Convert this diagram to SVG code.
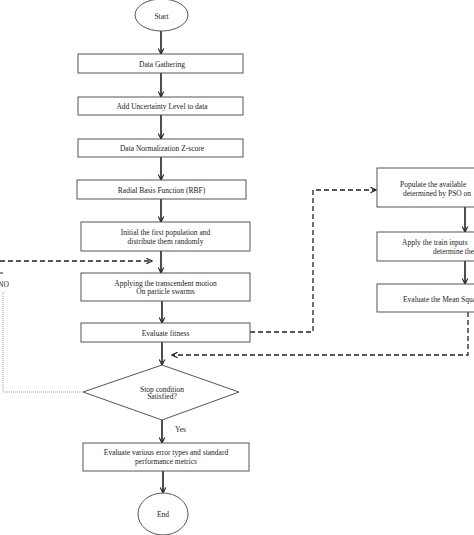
<svg xmlns="http://www.w3.org/2000/svg" width="474" height="535" viewBox="0 0 474 535">
<defs>
<style>
.box{fill:#fff;stroke:#555;stroke-width:1}
.t{font-family:"Liberation Serif","Times New Roman",serif;font-size:7.5px;fill:#222;text-anchor:middle}
.ts{font-family:"Liberation Serif","Times New Roman",serif;font-size:7.5px;fill:#222;text-anchor:start}
.a{stroke:#222;stroke-width:1.6;fill:none;marker-end:url(#ah)}
.d{stroke:#222;stroke-width:1.3;fill:none;stroke-dasharray:5,3}
.da{stroke:#222;stroke-width:1.3;fill:none;stroke-dasharray:5,3;marker-end:url(#ah)}
.dot{stroke:#888;stroke-width:0.8;fill:none;stroke-dasharray:1,1}
</style>
<marker id="ah" viewBox="0 0 10 10" refX="9" refY="5" markerWidth="7" markerHeight="7" markerUnits="userSpaceOnUse" orient="auto">
<path d="M1,1 L9,5 L1,9" fill="none" stroke="#222" stroke-width="1.6"/>
</marker>
</defs>
<rect width="474" height="535" fill="#fff"/>
<g id="connectors">
<line class="a" x1="161" y1="31" x2="161" y2="54"/>
<line class="a" x1="161" y1="73" x2="161" y2="97"/>
<line class="a" x1="161" y1="115" x2="161" y2="139"/>
<line class="a" x1="161" y1="157" x2="161" y2="180"/>
<line class="a" x1="161" y1="199" x2="161" y2="222"/>
<line class="a" x1="161" y1="251" x2="161" y2="273"/>
<line class="a" x1="162" y1="301" x2="162" y2="323"/>
<line class="a" x1="162" y1="342" x2="162" y2="365"/>
<line class="a" x1="162" y1="420" x2="162" y2="443"/>
<line class="a" x1="163" y1="471" x2="163" y2="493"/>
<line class="a" x1="465" y1="207" x2="465" y2="232"/>
<line class="a" x1="465" y1="261" x2="465" y2="284"/>
<line class="da" x1="0" y1="261" x2="152" y2="261"/>
<polyline class="da" points="250,332 313,332 313,190 376,190"/>
<polyline class="da" points="468,312 468,355 172,355"/>
<line x1="0" y1="273" x2="3" y2="273" stroke="#222" stroke-width="1"/>
<polyline class="dot" points="3,292 3,392 83,392"/>
<text class="ts" x="-2" y="287" font-size="8">NO</text>
<text class="ts" x="175" y="432">Yes</text>
</g>
<g id="start"><ellipse class="box" cx="161.5" cy="15" rx="26.5" ry="16"/><text class="t" x="161.5" y="18.5">Start</text></g>
<g id="gather"><rect class="box" x="78" y="54" width="165" height="19"/><text class="t" x="162" y="66.5">Data Gathering</text></g>
<g id="uncert"><rect class="box" x="78" y="97" width="165" height="18"/><text class="t" x="162" y="108.5">Add Uncertainty Level to data</text></g>
<g id="norm"><rect class="box" x="78" y="139" width="165" height="18"/><text class="t" x="162" y="150.5">Data Normalization Z-score</text></g>
<g id="rbf"><rect class="box" x="77" y="180" width="169" height="19"/><text class="t" x="161.5" y="192.5">Radial Basis Function (RBF)</text></g>
<g id="init"><rect class="box" x="81" y="222" width="169" height="29"/><text class="t" x="165.5" y="234.5">Initial the first population and</text><text class="t" x="165.5" y="243.5">distribute them randomly</text></g>
<g id="motion"><rect class="box" x="81" y="273" width="169" height="28"/><text class="t" x="165.5" y="285.5">Applying the transcendent motion</text><text class="t" x="165.5" y="294">On particle swarms</text></g>
<g id="fitness"><rect class="box" x="81" y="323" width="169" height="19"/><text class="t" x="165.5" y="335.5">Evaluate fitness</text></g>
<g id="stop"><polygon class="box" points="162,365 239,392 162,420 83,392"/><text class="t" x="162" y="391.5" font-size="7">Stop condition</text><text class="t" x="162" y="399" font-size="7">Satisfied?</text></g>
<g id="errors"><rect class="box" x="83" y="443" width="166" height="28"/><text class="t" x="166" y="455">Evaluate various error types and standard</text><text class="t" x="166" y="464">performance metrics</text></g>
<g id="end"><ellipse class="box" cx="163" cy="514" rx="25" ry="21"/><text class="t" x="163" y="517">End</text></g>
<g id="populate"><rect class="box" x="377" y="168" width="130" height="39"/><text class="ts" x="400" y="187">Populate the available</text><text class="ts" x="403" y="196">determined by PSO on</text></g>
<g id="train"><rect class="box" x="377" y="232" width="130" height="29"/><text class="ts" x="402" y="245">Apply the train inputs</text><text class="ts" x="433" y="254">determine the</text></g>
<g id="mse"><rect class="box" x="377" y="284" width="130" height="28"/><text class="ts" x="403" y="301.5">Evaluate the Mean Square</text></g>
</svg>
